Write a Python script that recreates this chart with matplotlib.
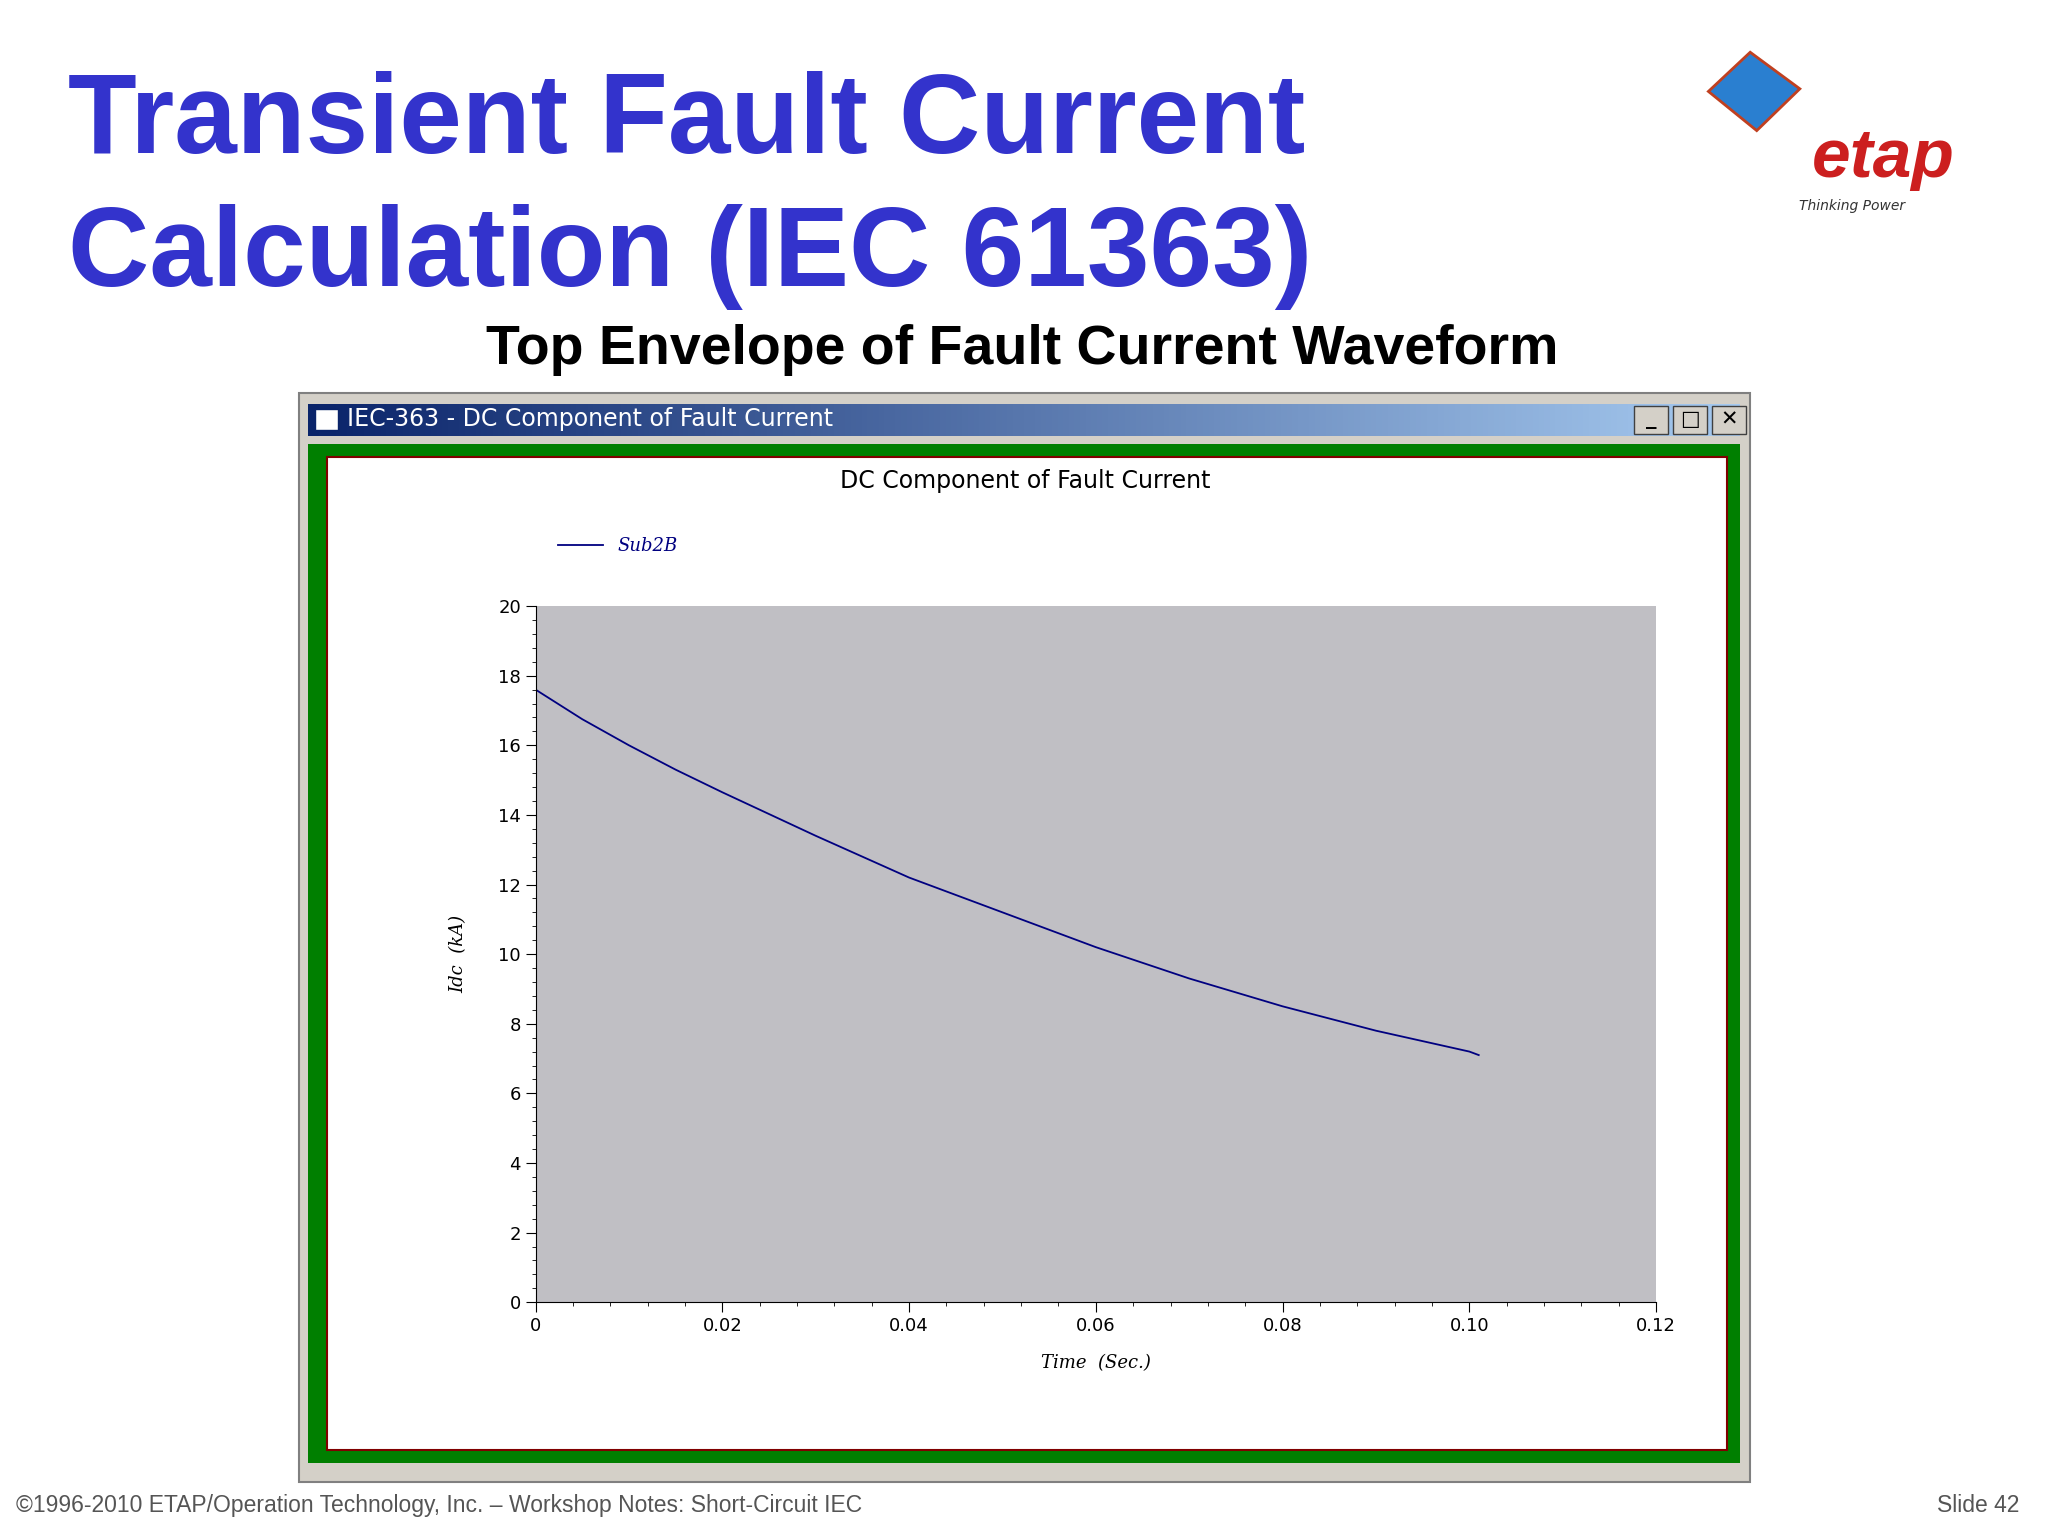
import matplotlib
matplotlib.use('Agg')
import matplotlib.pyplot as plt
from matplotlib.patches import Rectangle, Polygon
from matplotlib.ticker import MultipleLocator
import numpy as np

# curve
time_s = [0.0, 0.005, 0.01, 0.015, 0.02, 0.03, 0.04, 0.05, 0.06, 0.07, 0.08, 0.09, 0.10, 0.101]
idc_ka = [17.6, 16.75, 16.0, 15.3, 14.65, 13.4, 12.2, 11.2, 10.2, 9.3, 8.5, 7.8, 7.2, 7.1]
xticks = [0, 0.02, 0.04, 0.06, 0.08, 0.10, 0.12]
xtick_labels = ['0', '0.02', '0.04', '0.06', '0.08', '0.10', '0.12']
yticks = [0, 2, 4, 6, 8, 10, 12, 14, 16, 18, 20]

W, H = 1568.0, 1176.0
def fx(px): return px / W
def fy(py): return 1 - py / H

fig = plt.figure(figsize=(20.48, 15.36), dpi=100)
fig.patch.set_facecolor('white')

def rect(x0, y0, x1, y1, z=-10, **kw):
    fig.patches.append(Rectangle((fx(x0), fy(y1)), fx(x1) - fx(x0), fy(y0) - fy(y1),
                                 transform=fig.transFigure, zorder=z, **kw))

# window chrome
rect(229, 301, 1340, 1135, z=-12, facecolor='#d4d0c8', edgecolor='#808080', lw=1.5)
grad = fig.add_axes([fx(236), fy(334), fx(1332) - fx(236), fy(309) - fy(334)])
grad.imshow(np.linspace(0, 1, 256)[None, :], aspect='auto',
            cmap=matplotlib.colors.LinearSegmentedColormap.from_list('t', ['#0a246a', '#a6caf0']))
grad.axis('off')
fig.text(fx(266), fy(321), 'IEC-363 - DC Component of Fault Current', color='white',
         fontsize=17, va='center', family='DejaVu Sans', zorder=5)
rect(241, 313, 259, 329, z=5, facecolor='white', edgecolor='#0a246a', lw=1)
for i, s in enumerate(['_', '□', '✕']):
    x0 = 1251 + i * 30
    rect(x0, 311, x0 + 26, 332, z=5, facecolor='#d4d0c8', edgecolor='#404040', lw=1)
    fig.text(fx(x0 + 13), fy(321), s, fontsize=15, ha='center', va='center', weight='bold', zorder=6)
rect(236, 340, 1332, 1120, z=-11, facecolor='#007f00', edgecolor='none')
rect(250, 350, 1322, 1110, z=-10, facecolor='white', edgecolor='#800000', lw=1.5)

# chart
ax = fig.add_axes([fx(410), fy(997), fx(1268) - fx(410), fy(464) - fy(997)])
ax.set_facecolor('#c0bfc4')
ax.plot(time_s, idc_ka, color='#000080', lw=1.3, label='Sub2B')
ax.set_xlim(0, 0.12)
ax.set_ylim(0, 20)
ax.set_xticks(xticks)
ax.set_xticklabels(xtick_labels)
ax.set_yticks(yticks)
ax.xaxis.set_minor_locator(MultipleLocator(0.004))
ax.yaxis.set_minor_locator(MultipleLocator(0.4))
ax.tick_params(direction='out', labelsize=13, length=7, color='black')
ax.tick_params(which='minor', direction='out', length=3)
for sp in ['top', 'right']:
    ax.spines[sp].set_visible(False)
ax.set_xlabel('Time  (Sec.)', fontsize=13, family='DejaVu Serif', style='italic', labelpad=14)
ax.set_ylabel('Idc  (kA)', fontsize=13, family='DejaVu Serif', style='italic', labelpad=22)
fig.text(fx(785), fy(368), 'DC Component of Fault Current', fontsize=17, ha='center', va='center')
fig.legend(loc='center left', bbox_to_anchor=(fx(415), fy(418)), frameon=False,
           prop={'family': 'DejaVu Serif', 'style': 'italic', 'size': 13},
           handlelength=2.5, labelcolor='#000080')

# slide text
blue = '#3333cc'
fig.text(fx(52), fy(95), 'Transient Fault Current', fontsize=81, weight='bold', color=blue,
         va='center', family='Liberation Sans')
fig.text(fx(52), fy(197), 'Calculation (IEC 61363)', fontsize=81, weight='bold', color=blue,
         va='center', family='Liberation Sans')
fig.text(fx(783), fy(268), 'Top Envelope of Fault Current Waveform', fontsize=40, weight='bold',
         ha='center', va='center', family='Liberation Sans')
fig.text(fx(12), fy(1153), '©1996-2010 ETAP/Operation Technology, Inc. – Workshop Notes: Short-Circuit IEC',
         fontsize=16.5, color='#555555', va='center', family='Liberation Sans')
fig.text(fx(1546), fy(1153), 'Slide 42', fontsize=16.5, color='#555555', va='center', ha='right',
         family='Liberation Sans')

# logo
fig.patches.append(Polygon([(fx(1308), fy(70)), (fx(1340), fy(40)), (fx(1378), fy(68)), (fx(1345), fy(100))],
                           closed=True, transform=fig.transFigure, facecolor='#2a7fd0', edgecolor='#c04020', lw=2))
fig.text(fx(1442), fy(122), 'etap', fontsize=50, weight='bold', style='italic', color='#cc1f1f',
         ha='center', va='center', family='Liberation Sans')
fig.text(fx(1418), fy(158), 'Thinking Power', fontsize=10, style='italic', color='#333333',
         ha='center', va='center')

fig.savefig('out.png', dpi=100, facecolor='white')
